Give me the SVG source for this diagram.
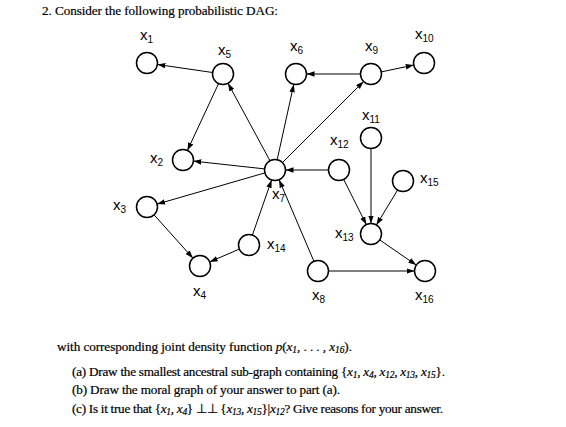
<svg xmlns="http://www.w3.org/2000/svg" width="566" height="427" viewBox="0 0 566 427">
<style>
.n{fill:#fff;stroke:#000;stroke-width:1.5}
.e{stroke:#000;stroke-width:1;fill:none}
.lb{font-family:"Liberation Sans",Arial,sans-serif;font-size:15px;fill:#000}
.sb{font-size:10px}
.t{font-family:"Liberation Serif","Times New Roman",serif;font-size:13.2px;fill:#000;stroke:#000;stroke-width:0.2}
.m{font-style:italic}
.ms{font-size:9.5px;font-style:italic}
.ind{letter-spacing:-3px}
</style>
<defs>
<marker id="ah" markerWidth="9" markerHeight="7" refX="8" refY="2.75" orient="auto" markerUnits="userSpaceOnUse">
<path d="M0,0 L8,2.75 L0,5.5 z" fill="#000"/>
</marker>
</defs>
<rect width="566" height="427" fill="#fff"/>
<text class="t" x="42" y="15" textLength="236" lengthAdjust="spacing">2. Consider the following probabilistic DAG:</text>
<g id="edges">
<line class="e" marker-end="url(#ah)" x1="212.6" y1="72.5" x2="157.4" y2="64.5"/>
<line class="e" marker-end="url(#ah)" x1="218.6" y1="83.5" x2="187.4" y2="150.5"/>
<line class="e" marker-end="url(#ah)" x1="270.0" y1="160.8" x2="228.0" y2="83.2"/>
<line class="e" marker-end="url(#ah)" x1="277.2" y1="159.7" x2="293.8" y2="84.3"/>
<line class="e" marker-end="url(#ah)" x1="360.5" y1="74" x2="306.5" y2="74"/>
<line class="e" marker-end="url(#ah)" x1="381.3" y1="71.9" x2="413.7" y2="65.1"/>
<line class="e" marker-end="url(#ah)" x1="282.4" y1="162.6" x2="363.6" y2="81.4"/>
<line class="e" marker-end="url(#ah)" x1="264.6" y1="168.9" x2="193.4" y2="161.1"/>
<line class="e" marker-end="url(#ah)" x1="328.5" y1="170" x2="285.5" y2="170"/>
<line class="e" marker-end="url(#ah)" x1="264.9" y1="172.9" x2="157.1" y2="204.1"/>
<line class="e" marker-end="url(#ah)" x1="154.0" y1="214.8" x2="193.0" y2="258.2"/>
<line class="e" marker-end="url(#ah)" x1="239.3" y1="249.1" x2="209.7" y2="261.9"/>
<line class="e" marker-end="url(#ah)" x1="252.4" y1="235.1" x2="271.6" y2="179.9"/>
<line class="e" marker-end="url(#ah)" x1="313.9" y1="261.3" x2="279.1" y2="179.7"/>
<line class="e" marker-end="url(#ah)" x1="328.5" y1="271" x2="414.5" y2="271"/>
<line class="e" marker-end="url(#ah)" x1="343.7" y1="179.4" x2="366.3" y2="224.6"/>
<line class="e" marker-end="url(#ah)" x1="371" y1="148.5" x2="371" y2="223.5"/>
<line class="e" marker-end="url(#ah)" x1="397.6" y1="190.0" x2="376.4" y2="225.0"/>
<line class="e" marker-end="url(#ah)" x1="379.7" y1="239.9" x2="416.3" y2="265.1"/>
</g>
<g id="x1"><circle class="n" cx="147" cy="63" r="10.5"/><text class="lb" x="140" y="40">x<tspan class="sb" dy="3">1</tspan></text></g>
<g id="x5"><circle class="n" cx="223" cy="74" r="10.5"/><text class="lb" x="218" y="55">x<tspan class="sb" dy="3">5</tspan></text></g>
<g id="x6"><circle class="n" cx="296" cy="74" r="10.5"/><text class="lb" x="290" y="51">x<tspan class="sb" dy="3">6</tspan></text></g>
<g id="x9"><circle class="n" cx="371" cy="74" r="10.5"/><text class="lb" x="365" y="51">x<tspan class="sb" dy="3">9</tspan></text></g>
<g id="x10"><circle class="n" cx="424" cy="63" r="10.5"/><text class="lb" x="415" y="39">x<tspan class="sb" dy="3">10</tspan></text></g>
<g id="x11"><circle class="n" cx="371" cy="138" r="10.5"/><text class="lb" x="362" y="120">x<tspan class="sb" dy="3">11</tspan></text></g>
<g id="x12"><circle class="n" cx="339" cy="170" r="10.5"/><text class="lb" x="330" y="145">x<tspan class="sb" dy="3">12</tspan></text></g>
<g id="x2"><circle class="n" cx="183" cy="160" r="10.5"/><text class="lb" x="150" y="163">x<tspan class="sb" dy="3">2</tspan></text></g>
<g id="x7"><circle class="n" cx="275" cy="170" r="10.5"/><text class="lb" x="272" y="199">x<tspan class="sb" dy="3">7</tspan></text></g>
<g id="x15"><circle class="n" cx="403" cy="181" r="10.5"/><text class="lb" x="420" y="183">x<tspan class="sb" dy="3">15</tspan></text></g>
<g id="x3"><circle class="n" cx="147" cy="207" r="10.5"/><text class="lb" x="113" y="210">x<tspan class="sb" dy="3">3</tspan></text></g>
<g id="x13"><circle class="n" cx="371" cy="234" r="10.5"/><text class="lb" x="335" y="238">x<tspan class="sb" dy="3">13</tspan></text></g>
<g id="x14"><circle class="n" cx="249" cy="245" r="10.5"/><text class="lb" x="267" y="249">x<tspan class="sb" dy="3">14</tspan></text></g>
<g id="x4"><circle class="n" cx="200" cy="266" r="10.5"/><text class="lb" x="193" y="296">x<tspan class="sb" dy="3">4</tspan></text></g>
<g id="x8"><circle class="n" cx="318" cy="271" r="10.5"/><text class="lb" x="312" y="300">x<tspan class="sb" dy="3">8</tspan></text></g>
<g id="x16"><circle class="n" cx="425" cy="271" r="10.5"/><text class="lb" x="415" y="300">x<tspan class="sb" dy="3">16</tspan></text></g>
<text class="t" x="57" y="351" textLength="295" lengthAdjust="spacing">with corresponding joint density function <tspan class="m">p</tspan>(<tspan class="m">x</tspan><tspan class="ms" dy="2">1</tspan><tspan dy="-2">, . . . , </tspan><tspan class="m">x</tspan><tspan class="ms" dy="2">16</tspan><tspan dy="-2">).</tspan></text>
<text class="t" x="72" y="376" textLength="373" lengthAdjust="spacing">(a) Draw the smallest ancestral sub-graph containing {<tspan class="m">x</tspan><tspan class="ms" dy="2">1</tspan><tspan dy="-2">, </tspan><tspan class="m">x</tspan><tspan class="ms" dy="2">4</tspan><tspan dy="-2">, </tspan><tspan class="m">x</tspan><tspan class="ms" dy="2">12</tspan><tspan dy="-2">, </tspan><tspan class="m">x</tspan><tspan class="ms" dy="2">13</tspan><tspan dy="-2">, </tspan><tspan class="m">x</tspan><tspan class="ms" dy="2">15</tspan><tspan dy="-2">}.</tspan></text>
<text class="t" x="72" y="394" textLength="268" lengthAdjust="spacing">(b) Draw the moral graph of your answer to part (a).</text>
<text class="t" x="72" y="413" textLength="371" lengthAdjust="spacing">(c) Is it true that {<tspan class="m">x</tspan><tspan class="ms" dy="2">1</tspan><tspan dy="-2">, </tspan><tspan class="m">x</tspan><tspan class="ms" dy="2">4</tspan><tspan dy="-2">} ⊥⊥ {</tspan><tspan class="m">x</tspan><tspan class="ms" dy="2">13</tspan><tspan dy="-2">, </tspan><tspan class="m">x</tspan><tspan class="ms" dy="2">15</tspan><tspan dy="-2">}|</tspan><tspan class="m">x</tspan><tspan class="ms" dy="2">12</tspan><tspan dy="-2">? Give reasons for your answer.</tspan></text>
</svg>
